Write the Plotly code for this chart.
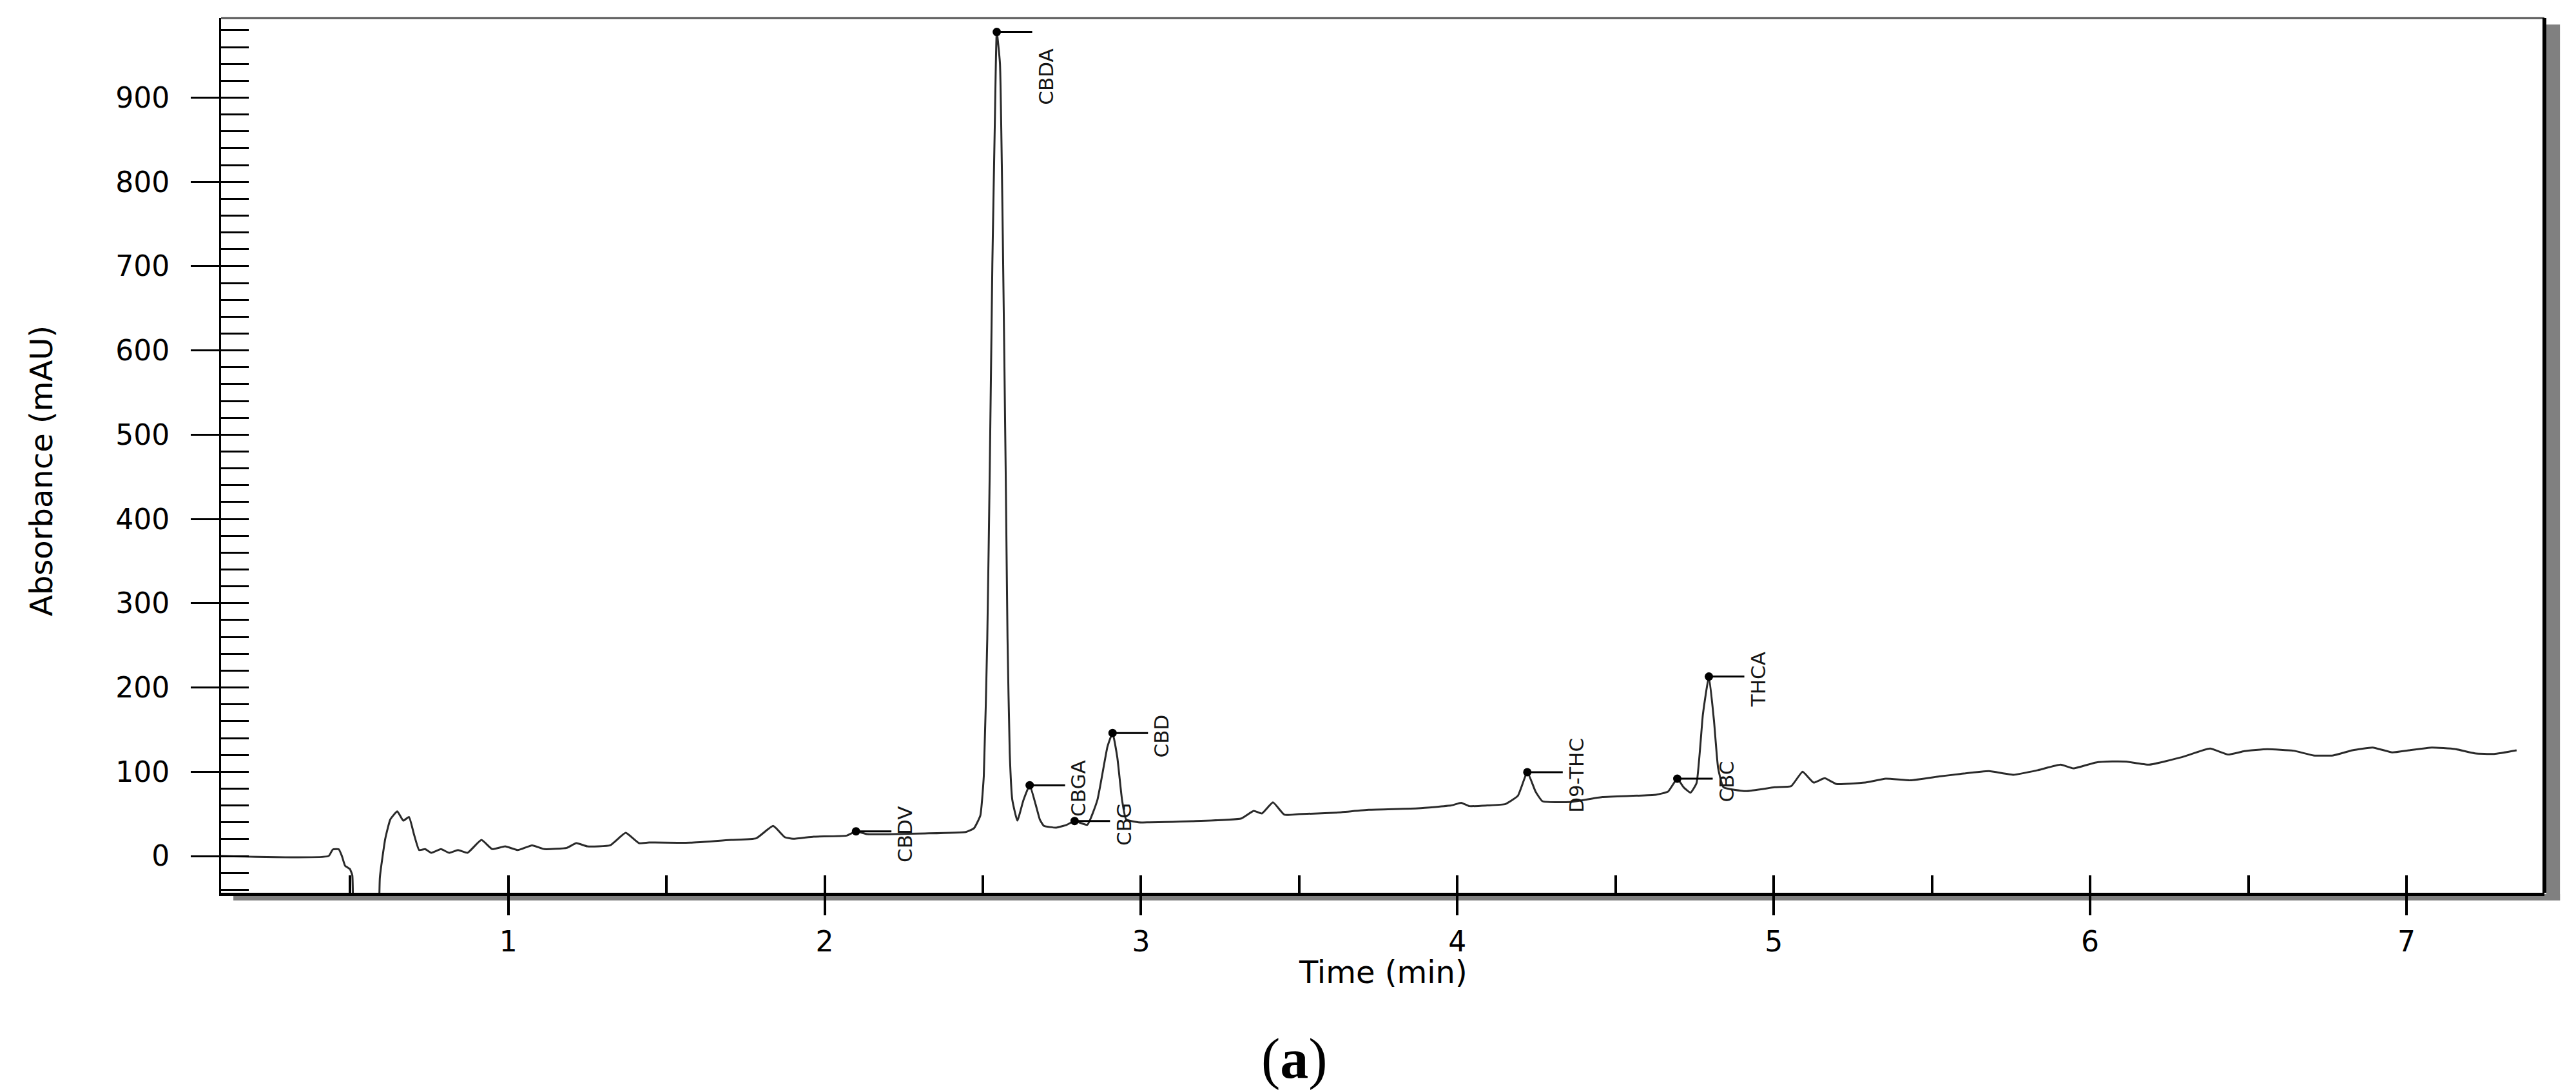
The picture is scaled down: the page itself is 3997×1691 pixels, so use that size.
import plotly.graph_objects as go

# chromatogram (time in min, absorbance in mAU)
time_min = [
    0.092, 0.432, 0.445, 0.464, 0.474, 0.484, 0.499, 0.507, 0.512, 0.550,
    0.588, 0.594, 0.611, 0.627, 0.649, 0.668, 0.686, 0.702, 0.718, 0.737,
    0.757, 0.787, 0.813, 0.841, 0.871, 0.915, 0.949, 0.990, 1.030, 1.075,
    1.114, 1.185, 1.215, 1.250, 1.322, 1.371, 1.413, 1.445, 1.575, 1.705,
    1.783, 1.837, 1.874, 1.900, 1.965, 2.069, 2.099, 2.134, 2.317, 2.446,
    2.472, 2.492, 2.503, 2.514, 2.522, 2.530, 2.538, 2.544, 2.554, 2.563,
    2.572, 2.578, 2.585, 2.593, 2.609, 2.628, 2.648, 2.667, 2.680, 2.693,
    2.732, 2.765, 2.790, 2.830, 2.862, 2.894, 2.910, 2.925, 2.940, 2.953,
    2.992, 3.161, 3.317, 3.356, 3.382, 3.417, 3.453, 3.499, 3.616, 3.720,
    3.876, 3.980, 4.012, 4.038, 4.094, 4.152, 4.191, 4.221, 4.247, 4.269,
    4.354, 4.458, 4.627, 4.666, 4.695, 4.715, 4.737, 4.756, 4.776, 4.795,
    4.811, 4.824, 4.841, 4.912, 5.003, 5.055, 5.091, 5.126, 5.161, 5.198,
    5.289, 5.354, 5.432, 5.523, 5.589, 5.680, 5.758, 5.836, 5.907, 5.947,
    6.018, 6.070, 6.114, 6.187, 6.290, 6.379, 6.436, 6.488, 6.560, 6.643,
    6.706, 6.768, 6.829, 6.893, 6.955, 7.008, 7.080, 7.153, 7.216, 7.277,
    7.348,
]
absorbance = [
    0, 0, 7.7, 8, 0, -11.5, -15.3, -23, -120, -200,
    -120, -25.5, 20.4, 43.4, 53, 42, 46.4, 25.5, 7.1, 8.2,
    3.8, 8.2, 3.8, 7.1, 3.8, 19.1, 8.2, 11.5, 7.1, 12.7,
    8.2, 9.7, 15.3, 11.5, 12.7, 27.5, 15.3, 16, 15.8, 19.1,
    20.9, 35.7, 22.4, 20.4, 23, 24.2, 29.3, 26, 26.8, 28.5,
    33, 48, 95, 258, 463, 702, 873, 978, 941, 737,
    463, 258, 122, 67, 42, 66, 84, 61, 43.4, 35.7,
    33.7, 37, 41.6, 37, 66.5, 130, 146, 117, 66.5, 43.4,
    40, 41.3, 44.6, 53.6, 50.5, 63.7, 49, 49.7, 51.5, 54.8,
    56.6, 60, 63.2, 59.2, 60, 61.7, 71.4, 99.5, 76.5, 65,
    64, 70, 72.7, 76.5, 91.8, 81.6, 75.2, 86.7, 168, 213,
    160.7, 104.6, 81.6, 77, 81.6, 82.9, 100, 87.2, 92.3, 85.5,
    87.2, 91.8, 89.8, 94.4, 97.4, 100.7, 96.4, 102, 108.4, 104,
    111, 112.2, 112, 108.4, 117.3, 127.5, 120.4, 124.5, 126.8, 125,
    119.4, 119.4, 125.5, 128.8, 123, 125.5, 128.8, 127, 121.9, 121.1,
    125.5,
]

peak_names = ['CBDV', 'CBDA', 'CBGA', 'CBG', 'CBD', 'D9-THC', 'CBC', 'THCA']
peak_times = [2.099, 2.544, 2.648, 2.790, 2.910, 4.221, 4.695, 4.795]
peak_values = [29.3, 978, 84, 41.6, 146, 99.5, 91.8, 213]

x_range = [0.092, 7.436]
y_range = [-43.6, 994.5]

lead = 0.112  # length of the little line after each peak dot, in minutes
sans = 'DejaVu Sans, Verdana, sans-serif'

fig = go.Figure()
fig.add_trace(go.Scatter(x=time_min, y=absorbance, mode='lines',
                         line=dict(color='#2a2a2a', width=3, shape='spline', smoothing=0.4),
                         showlegend=False, hoverinfo='skip'))

lead_x = []
lead_y = []
for t, v in zip(peak_times, peak_values):
    lead_x += [t, t + lead, None]
    lead_y += [v, v, None]
fig.add_trace(go.Scatter(x=lead_x, y=lead_y, mode='lines',
                         line=dict(color='black', width=3), showlegend=False))
fig.add_trace(go.Scatter(x=peak_times, y=peak_values, mode='markers',
                         marker=dict(color='black', size=13), showlegend=False))

# empty trace on the overlay axes, they only carry the inner tick marks
fig.add_trace(go.Scatter(x=[], y=[], xaxis='x2', yaxis='y2', showlegend=False))

for name, t, v in zip(peak_names, peak_times, peak_values):
    if name == 'CBDA':
        anchor, shift = 'top', -24   # pushed down to stay inside the frame
    else:
        anchor, shift = 'middle', -5
    fig.add_annotation(x=t, y=v, text=name, textangle=-90, showarrow=False,
                       xanchor='left', yanchor=anchor, xshift=56, yshift=shift,
                       font=dict(family=sans, size=31, color='#151515'))

# axis titles as annotations so they sit where the reference has them
fig.add_annotation(x=0.5, y=-0.091, xref='paper', yref='paper', text='Time (min)',
                   showarrow=False, xanchor='center', yanchor='middle',
                   font=dict(family=sans, size=48, color='black'))
fig.add_annotation(x=-0.0774, y=0.4827, xref='paper', yref='paper', text='Absorbance (mAU)',
                   textangle=-90, showarrow=False, xanchor='center', yanchor='middle',
                   font=dict(family=sans, size=48, color='black'))
fig.add_annotation(x=0.4621, y=-0.1894, xref='paper', yref='paper', text='(<b>a</b>)',
                   showarrow=False, xanchor='center', yanchor='middle',
                   font=dict(family='Liberation Serif, Times New Roman', size=88, color='black'))

tick_font = dict(family=sans, size=44, color='black')

fig.update_layout(
    width=3997, height=1691,
    margin=dict(l=335, r=57, t=20, b=314),
    plot_bgcolor='white', paper_bgcolor='white',
    xaxis=dict(range=x_range, tick0=0, dtick=1, ticks='outside', ticklen=30, tickwidth=4,
               tickcolor='black', showline=True, linecolor='black', linewidth=5,
               showgrid=False, zeroline=False, tickfont=tick_font, ticklabelstandoff=3),
    xaxis2=dict(range=x_range, overlaying='x', anchor='y', side='bottom', tick0=0, dtick=0.5,
                ticks='inside', ticklen=27, tickwidth=4, tickcolor='black',
                showticklabels=False, showgrid=False, zeroline=False, showline=False),
    yaxis=dict(range=y_range, tick0=0, dtick=100, ticks='outside', ticklen=44, tickwidth=3,
               tickcolor='black', showline=True, linecolor='black', linewidth=3,
               showgrid=False, zeroline=False, tickfont=tick_font, ticklabelstandoff=24),
    yaxis2=dict(range=y_range, overlaying='y', anchor='x', side='left', tick0=0, dtick=20,
                ticks='inside', ticklen=43, tickwidth=3, tickcolor='black',
                showticklabels=False, showgrid=False, zeroline=False, showline=False),
    shapes=[
        # thin top border, heavy right border
        dict(type='line', xref='paper', yref='paper', x0=0, x1=1, y0=1, y1=1,
             line=dict(color='#555555', width=3)),
        dict(type='line', xref='paper', yref='paper', x0=1, x1=1, y0=0, y1=1,
             line=dict(color='black', width=6)),
        # grey drop shadow under the x axis and right of the frame
        dict(type='rect', xref='paper', yref='paper', x0=0.0053, x1=1.0067, y0=-0.0088, y1=-0.0015,
             fillcolor='#808080', line=dict(width=0), layer='below'),
        dict(type='rect', xref='paper', yref='paper', x0=1.0008, x1=1.0067, y0=-0.0088, y1=0.9926,
             fillcolor='#808080', line=dict(width=0), layer='below'),
    ],
)

fig.write_html('out.html')
